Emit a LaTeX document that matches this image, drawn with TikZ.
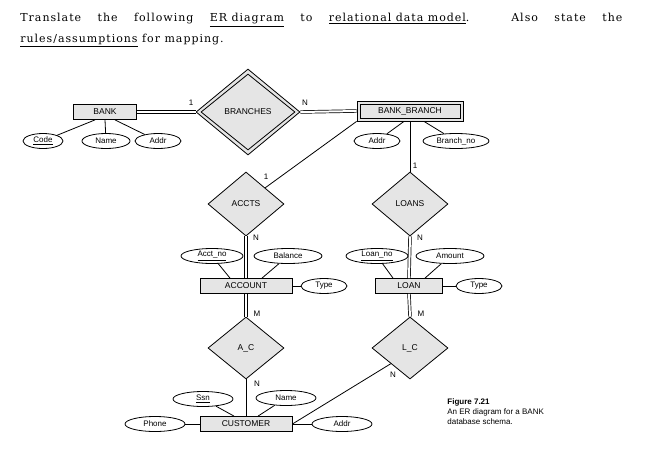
\documentclass[tikz,border=0pt]{standalone}
\usepackage{fontspec}
\setmainfont{DejaVu Serif}[LetterSpace=9]
\newfontfamily\sansf{Liberation Sans}
\usetikzlibrary{shapes.geometric}
\begin{document}
\begin{tikzpicture}[x=1pt,y=-1pt,
 ent/.style={draw,fill=black!10,font=\sansf\fontsize{8.5}{10}\selectfont,minimum height=15pt,inner sep=0pt},
 att/.style={draw,ellipse,fill=white,font=\sansf\fontsize{8}{10}\selectfont,minimum height=15pt,inner sep=0pt},
 rel/.style={draw,diamond,fill=black!10,font=\sansf\fontsize{8.5}{10}\selectfont,inner sep=0pt},
 lab/.style={font=\sansf\fontsize{8}{10}\selectfont,inner sep=0pt},
 dbl/.style={double,double distance=2pt,line width=0.7pt},
 line width=0.8pt]
\useasboundingbox (0,0) rectangle (654,448);
\node[anchor=west,inner sep=0pt,font=\fontsize{11}{13}\selectfont] (h1) at (20,20) {\makebox[602pt][s]{Translate the following \underline{ER diagram} to \underline{relational data model}. Also state the}};
\node[anchor=west,inner sep=0pt,font=\fontsize{11}{13}\selectfont] (h2) at (20,40) {\underline{rules/assumptions} for mapping.};
% entities
\node[ent,minimum width=63pt] (bank) at (105,112) {BANK};
\node[ent,minimum width=106pt,minimum height=20pt] (bb) at (410,111) {};
\node[ent,minimum width=100pt,minimum height=14pt] (bbi) at (410,111) {BANK\_BRANCH};
\node[ent,minimum width=92pt] (acc) at (246,286) {ACCOUNT};
\node[ent,minimum width=67pt] (loan) at (409,286) {LOAN};
\node[ent,minimum width=92pt] (cust) at (246,424) {CUSTOMER};
% relationships
\node[draw,diamond,fill=black!10,minimum width=104pt,minimum height=86pt,inner sep=0pt] (br) at (248,112) {};
\node[rel,minimum width=94pt,minimum height=76pt] (bri) at (248,112) {BRANCHES};
\node[rel,minimum width=76pt,minimum height=64pt] (accts) at (246,204) {ACCTS};
\node[rel,minimum width=76pt,minimum height=64pt] (loans) at (410,204) {LOANS};
\node[rel,minimum width=76pt,minimum height=62pt] (ac) at (246,348) {A\_C};
\node[rel,minimum width=76pt,minimum height=62pt] (lc) at (410,348) {L\_C};
% attributes
\node[att,minimum width=40pt] (code) at (43,141) {\underline{Code}};
\node[att,minimum width=48pt] (bname) at (106,141) {Name};
\node[att,minimum width=46pt] (baddr) at (158,141) {Addr};
\node[att,minimum width=46pt] (bbaddr) at (377,141) {Addr};
\node[att,minimum width=66pt] (brno) at (456,141) {Branch\_no};
\node[att,minimum width=62pt] (acno) at (212,256) {\underline{Acct\_no}};
\node[att,minimum width=68pt] (bal) at (288,256) {Balance};
\node[att,minimum width=46pt] (atype) at (324,286) {Type};
\node[att,minimum width=62pt] (lno) at (377,256) {\underline{Loan\_no}};
\node[att,minimum width=68pt] (amt) at (450,256) {Amount};
\node[att,minimum width=46pt] (ltype) at (479,286) {Type};
\node[att,minimum width=60pt] (ssn) at (203,399) {\underline{Ssn}};
\node[att,minimum width=60pt] (cname) at (286,398) {Name};
\node[att,minimum width=60pt] (phone) at (155,424) {Phone};
\node[att,minimum width=60pt] (caddr) at (342,424) {Addr};
% attribute links
\draw (bank.south) ++(-10,0) -- (code);
\draw (bank.south) -- (bname);
\draw (bank.south) ++(10,0) -- (baddr);
\draw (bb.south) ++(-6,0) -- (bbaddr);
\draw (bb.south) ++(14,0) -- (brno);
\draw (acc.north) ++(-16,0) -- (acno);
\draw (acc.north) ++(16,0) -- (bal);
\draw (acc.east) -- (atype);
\draw (loan.north) ++(-16,0) -- (lno);
\draw (loan.north) ++(16,0) -- (amt);
\draw (loan.east) -- (ltype);
\draw (cust.north) ++(-12,0) -- (ssn);
\draw (cust.north) ++(12,0) -- (cname);
\draw (cust.west) -- (phone);
\draw (cust.east) -- (caddr);
% relationship links
\draw[dbl] (bank.east) -- (br.west);
\draw[dbl] (br.east) -- (bb.west);
\draw (accts.north east) -- (bb.south west);
\draw (bb.south) -- (loans.north);
\draw[dbl] (accts.south) -- (acc.north);
\draw[dbl] (acc.south) -- (ac.north);
\draw (ac.south) -- (cust.north);
\draw[dbl] (loans.south) -- (loan.north);
\draw[dbl] (loan.south) -- (lc.north);
\draw (lc.south west) -- (cust.east);
% labels
\node[lab] (l1) at (191,103) {1};
\node[lab] (l2) at (305,103) {N};
\node[lab] (l3) at (266,177) {1};
\node[lab] (l4) at (415,166) {1};
\node[lab] (l5) at (256,238) {N};
\node[lab] (l6) at (420,238) {N};
\node[lab] (l7) at (257,314) {M};
\node[lab] (l8) at (421,314) {M};
\node[lab] (l9) at (257,384) {N};
\node[lab] (l10) at (393,375) {N};
% caption
\node[anchor=north west,align=left,inner sep=0pt,font=\sansf\fontsize{8}{10}\selectfont] (cap) at (447,398) {\textbf{Figure 7.21}\\An ER diagram for a BANK\\database schema.};
\end{tikzpicture}
\end{document}
